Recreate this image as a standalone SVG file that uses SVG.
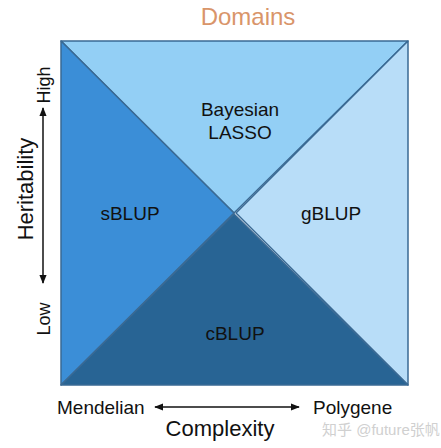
<svg xmlns="http://www.w3.org/2000/svg" width="441" height="448" viewBox="0 0 441 448">
<defs>
<style>
.t{font-family:"Liberation Sans",Arial,sans-serif;fill:#111;}
.tri{stroke:#3a6a94;stroke-width:1.5;stroke-linejoin:round;}
</style>
<marker id="ah" viewBox="0 0 10 10" refX="9" refY="5" markerWidth="6" markerHeight="6" orient="auto-start-reverse">
<path d="M0,1 L10,5 L0,9 z" fill="#111"/>
</marker>
</defs>
<rect width="441" height="448" fill="#fff"/>
<text class="t" x="248" y="25" text-anchor="middle" font-size="24" style="fill:#d9956a">Domains</text>
<g id="top"><polygon class="tri" points="61,41 408,41 234,213" fill="#93cff5"/><text class="t" x="240" y="116" text-anchor="middle" font-size="19">Bayesian</text><text class="t" x="240" y="139" text-anchor="middle" font-size="19">LASSO</text></g>
<g id="left"><polygon class="tri" points="61,41 234,213 61,385" fill="#3b8ed7"/><text class="t" x="130" y="220" text-anchor="middle" font-size="19">sBLUP</text></g>
<g id="right"><polygon class="tri" points="408,41 408,385 236,213" fill="#b8ddf8"/><text class="t" x="331" y="220" text-anchor="middle" font-size="19">gBLUP</text></g>
<g id="bottom"><polygon class="tri" points="234,214 408,385 61,385" fill="#286494"/><text class="t" x="235" y="340" text-anchor="middle" font-size="19">cBLUP</text></g>
<g id="connectors">
<line x1="155" y1="407" x2="299" y2="407" stroke="#111" stroke-width="1.5" marker-start="url(#ah)" marker-end="url(#ah)"/>
<line x1="43" y1="108" x2="43" y2="283" stroke="#111" stroke-width="1.5" marker-start="url(#ah)" marker-end="url(#ah)"/>
</g>
<text class="t" x="57" y="414" font-size="19">Mendelian</text>
<text class="t" x="313" y="414" font-size="19">Polygene</text>
<text class="t" x="220" y="436" text-anchor="middle" font-size="22">Complexity</text>
<text class="t" transform="translate(33,189) rotate(-90)" text-anchor="middle" font-size="22">Heritability</text>
<text class="t" transform="translate(50,85) rotate(-90)" text-anchor="middle" font-size="18">High</text>
<text class="t" transform="translate(50,319) rotate(-90)" text-anchor="middle" font-size="18">Low</text>
<text x="322" y="435" font-size="15" style="font-family:'Liberation Sans','Noto Sans CJK SC',sans-serif;fill:#d0d0d0">知乎 @future张帆</text>
</svg>
